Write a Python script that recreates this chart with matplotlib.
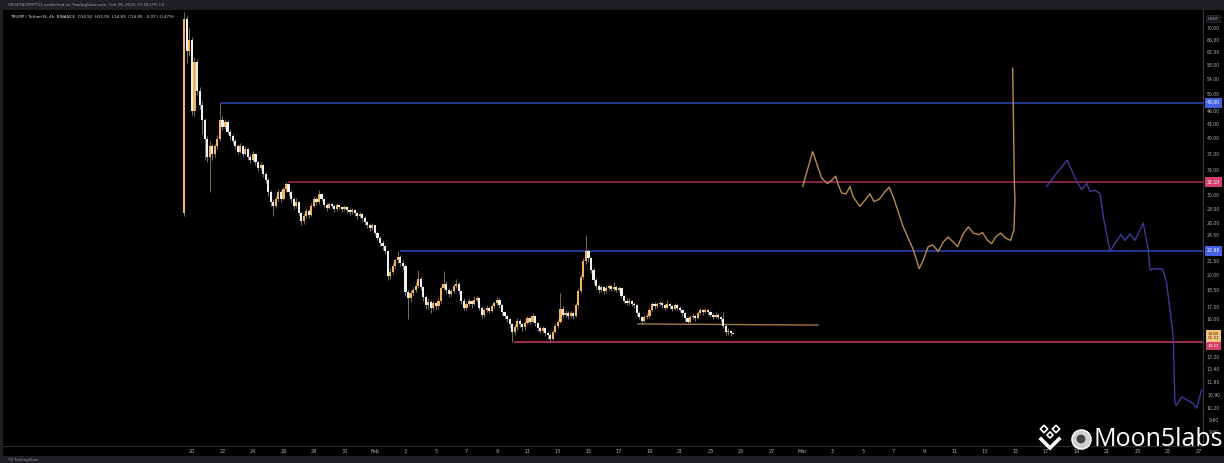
#!/usr/bin/env python3
# TRUMP/USDT 4h chart with drawn levels and projection paths (TradingView style)

import matplotlib.pyplot as plt
import numpy as np
from matplotlib.patches import Rectangle

W, H = 1224, 463

# ---- candles (4h), first candle Jan 19 12:00, x in days from Jan 20 ----
first_open = 27.5
closes = [
    73.5, 62.4, 66.0, 46.0, 59.0, 51.0, 47.5, 44.0, 40.0, 36.5,
    38.5, 37.0, 38.5, 40.0, 44.0, 42.5, 43.5, 41.5, 40.5, 39.5,
    38.5, 37.5, 38.5, 37.0, 38.0, 36.5, 36.0, 37.0, 35.5, 34.5,
    35.0, 33.5, 32.5, 30.5, 29.0, 28.5, 29.5, 30.5, 29.5, 31.0,
    31.8, 30.5, 29.5, 28.5, 29.0, 27.5, 26.3, 27.0, 27.8, 27.2,
    28.5, 29.5, 29.0, 30.2, 29.5, 28.6, 28.2, 28.8, 28.5, 28.0,
    28.6, 28.3, 28.0, 28.3, 27.9, 27.6, 27.9, 27.4, 27.0, 27.3,
    26.8, 26.2, 25.8, 25.4, 25.8, 24.8, 24.2, 23.6, 23.2, 22.6,
    19.9, 20.4, 21.0, 21.6, 22.0, 21.3, 21.0, 18.4, 17.8, 18.3,
    18.6, 19.0, 19.6, 18.9, 17.9, 17.2, 17.5, 17.0, 17.4, 17.1,
    17.6, 18.8, 19.2, 18.6, 18.2, 18.5, 19.0, 19.2, 18.5, 17.6,
    17.0, 17.3, 17.6, 17.3, 17.7, 17.8, 17.0, 16.4, 16.8, 17.0,
    16.7, 17.1, 17.4, 17.7, 17.2, 16.6, 16.3, 16.0, 15.6, 15.0,
    15.4, 15.9, 15.6, 15.4, 15.7, 16.1, 15.8, 16.3, 15.7, 15.3,
    15.1, 15.3, 14.9, 14.8, 14.5, 15.0, 15.5, 15.8, 16.9, 16.4,
    16.5, 16.3, 16.5, 16.3, 17.2, 18.5, 19.8, 21.5, 22.7, 21.8,
    20.6, 19.5, 19.0, 18.6, 18.9, 18.5, 18.8, 19.0, 18.7, 18.9,
    18.6, 18.8, 18.0, 17.6, 17.4, 17.6, 17.3, 17.2, 16.5, 16.2,
    15.9, 16.2, 16.3, 16.8, 17.3, 17.1, 17.3, 17.4, 17.2, 17.0,
    17.3, 17.1, 16.9, 17.2, 17.0, 16.8, 16.5, 16.1, 15.8, 16.2,
    16.3, 16.1, 16.5, 16.8, 16.6, 16.8, 16.6, 16.4, 16.2, 16.4,
    16.2, 16.0, 15.5, 15.0, 15.1, 14.92, 14.85,
]
highs = [
    76.0, 74.5, 70.3, 67.0, 60.5, 60.0, 52.0, 48.5, 44.5, 40.5,
    39.5, 39.0, 39.0, 40.8, 48.0, 45.0, 44.2, 44.0, 42.0, 41.0,
    40.0, 39.0, 39.2, 38.8, 38.6, 38.2, 37.0, 37.6, 37.2, 35.8,
    35.6, 35.2, 33.8, 32.8, 30.8, 29.5, 30.0, 31.0, 30.8, 31.4,
    32.1, 32.0, 30.8, 29.8, 29.6, 29.2, 27.8, 27.4, 28.2, 28.0,
    28.9, 29.9, 29.8, 30.8, 30.4, 29.7, 28.9, 29.1, 29.0, 28.7,
    28.9, 28.8, 28.5, 28.6, 28.4, 28.1, 28.2, 28.0, 27.6, 27.6,
    27.4, 27.0, 26.4, 26.0, 26.1, 25.9, 25.0, 24.4, 23.9, 23.4,
    22.8, 20.8, 21.3, 21.7, 22.65, 22.2, 21.6, 21.2, 18.6, 18.6,
    18.9, 19.3, 20.6, 19.8, 19.0, 18.1, 17.8, 17.7, 17.6, 17.5,
    17.8, 19.0, 20.5, 19.4, 18.8, 18.7, 19.2, 19.6, 19.3, 18.6,
    17.8, 17.5, 17.8, 17.7, 18.0, 18.0, 17.9, 17.1, 17.0, 17.2,
    17.1, 17.3, 17.6, 17.9, 17.8, 17.3, 16.7, 16.4, 16.1, 15.7,
    15.6, 16.1, 16.0, 15.7, 15.9, 16.3, 16.2, 16.5, 16.4, 15.8,
    15.5, 15.5, 15.4, 15.1, 14.9, 15.2, 15.7, 16.0, 18.3, 17.1,
    16.8, 16.7, 16.7, 16.6, 17.4, 18.8, 20.2, 21.9, 24.6, 22.9,
    22.0, 20.8, 19.7, 19.2, 19.1, 19.0, 19.0, 19.2, 19.1, 19.3,
    19.0, 19.0, 18.9, 18.1, 17.8, 17.8, 17.7, 17.5, 17.3, 16.7,
    16.3, 16.4, 16.5, 17.0, 17.5, 17.5, 17.5, 17.6, 17.5, 17.3,
    17.7, 17.4, 17.2, 17.4, 17.3, 17.1, 16.9, 16.6, 16.2, 16.4,
    16.5, 16.4, 16.7, 17.0, 16.9, 17.0, 16.9, 16.7, 16.5, 16.6,
    16.5, 16.3, 16.6, 15.6, 15.3, 15.2, 15.05,
]
lows = [
    27.0, 58.8, 61.0, 45.2, 45.0, 50.0, 46.5, 41.0, 36.0, 35.5,
    30.5, 36.0, 36.5, 38.0, 39.5, 41.8, 42.0, 41.0, 39.8, 39.0,
    38.0, 37.0, 37.2, 36.5, 36.8, 36.0, 35.4, 35.8, 35.0, 34.0,
    34.2, 33.0, 32.0, 30.0, 28.5, 27.0, 28.2, 29.2, 29.0, 29.3,
    30.6, 30.0, 29.0, 28.0, 28.2, 27.0, 25.8, 26.0, 26.8, 26.8,
    27.0, 28.3, 28.6, 28.8, 29.2, 28.3, 27.8, 28.0, 28.1, 27.6,
    27.8, 28.0, 27.6, 27.8, 27.5, 27.2, 27.3, 27.0, 26.6, 26.8,
    26.4, 25.9, 25.4, 25.0, 25.2, 24.5, 23.9, 23.2, 22.8, 22.3,
    19.5, 19.6, 20.1, 20.8, 21.3, 21.0, 20.6, 18.0, 16.0, 17.5,
    18.0, 18.4, 18.8, 18.6, 17.6, 16.9, 16.9, 16.5, 16.8, 16.8,
    16.9, 17.4, 18.6, 18.3, 17.9, 18.0, 18.3, 18.8, 18.2, 17.3,
    16.8, 16.8, 17.1, 17.0, 17.2, 17.5, 16.8, 16.1, 16.2, 16.6,
    16.5, 16.6, 17.0, 17.2, 17.0, 16.4, 16.0, 15.8, 15.3, 14.27,
    14.8, 15.2, 15.4, 15.1, 15.2, 15.6, 15.6, 15.7, 15.5, 15.1,
    14.9, 14.9, 14.7, 14.5, 14.3, 14.4, 14.9, 15.3, 15.7, 16.2,
    16.2, 16.0, 16.1, 16.0, 16.2, 17.0, 18.3, 19.6, 21.2, 21.4,
    20.3, 19.2, 18.7, 18.3, 18.4, 18.2, 18.3, 18.6, 18.5, 18.5,
    18.4, 18.4, 17.8, 17.4, 17.2, 17.2, 17.1, 17.0, 16.3, 16.0,
    15.6, 15.8, 16.0, 16.1, 16.7, 16.9, 17.0, 17.1, 17.0, 16.8,
    16.9, 16.9, 16.7, 16.8, 16.8, 16.6, 16.3, 15.9, 15.6, 15.7,
    16.0, 15.9, 16.0, 16.4, 16.4, 16.5, 16.4, 16.2, 16.0, 16.1,
    16.0, 15.8, 15.3, 14.8, 14.8, 14.7, 14.83,
]

# ---- drawn horizontal rays: price, start day ----
level_prices = [48.0, 32.1, 22.65, 14.27]
level_start = [1.84, 6.30, 13.64, 21.11]
level_colors = ["#2f44b2", "#a3304e", "#2f44b2", "#cc3a60"]
level_tags = ["#4560e0", "#d63f69", "#4560e0", "#d63f69"]

support_days = [29.25, 41.05]
support_prices = [15.64, 15.55]

# ---- hand drawn projections ----
proj1_days = [40.05, 40.70, 41.29, 41.66, 41.95, 42.21, 42.38, 42.60, 42.89, 43.15,
              43.36, 43.80, 44.13, 44.46, 44.72, 45.07, 45.44, 45.72, 45.99, 46.64,
              47.30, 47.69, 47.95, 48.28, 48.57, 48.94, 49.27, 49.59, 49.92, 50.21,
              50.54, 50.91, 51.24, 51.56, 51.85, 52.15, 52.44, 52.72, 53.03, 53.38,
              53.69, 53.90, 53.97, 53.93, 53.82]
proj1_prices = [31.4, 37.5, 32.8, 31.9, 32.4, 33.1, 31.7, 30.4, 30.25, 31.4,
                29.8, 28.4, 29.3, 30.25, 29.1, 29.45, 30.6, 31.3, 29.8, 25.6,
                22.8, 20.7, 21.6, 23.15, 23.35, 22.6, 23.7, 24.3, 23.7, 23.15,
                24.6, 25.6, 24.8, 24.6, 24.85, 23.95, 23.5, 24.35, 24.8, 24.15,
                23.9, 25.2, 29.3, 31.9, 57.3]
proj2_days = [56.05, 56.70, 57.40, 57.90, 58.34, 58.67, 58.89, 59.21, 59.54, 59.76,
              60.20, 60.52, 60.90, 61.18, 61.51, 61.84, 62.38, 62.71, 62.82, 63.15,
              63.65, 63.92, 64.35, 64.46, 64.57, 64.90, 65.33, 65.66, 65.88, 66.21]
proj2_prices = [31.4, 33.6, 35.9, 32.8, 30.9, 31.9, 30.6, 30.8, 30.35, 26.95,
                22.6, 23.55, 24.6, 23.9, 24.7, 23.9, 26.1, 22.8, 20.6, 20.7,
                20.65, 19.2, 14.65, 10.45, 10.35, 10.8, 10.6, 10.45, 10.2, 11.2]

price_ticks = [70, 66, 62, 58, 54, 50, 46, 43, 40, 37, 34, 30, 28, 26, 24.5,
               21.5, 20, 18.5, 17, 16, 13.2, 12.4, 11.6, 10.9, 10.2, 9.6, 9.0]
tick_days = list(range(0, 67, 2))
tick_labels = (["20", "22", "24", "26", "28", "30", "Feb"]
               + [str(d) for d in range(3, 28, 2)] + ["Mar"]
               + [str(d) for d in range(3, 28, 2)])

last_price = 14.85

UP, DN = "#f2b55e", "#f0f0f0"
WICK_UP, WICK_DN = "#9a7846", "#858585"
LABEL_GREY = "#aeb1b9"

fig = plt.figure(figsize=(W / 100, H / 100), dpi=100, facecolor="#1f2023")


def fx(px):
    return px / W


def fy(py):
    return 1 - py / H


top, bot, left, sep = 10, 446, 3, 1203
ax = fig.add_axes([fx(left), fy(bot), fx(sep - left), (bot - top) / H])
axr = fig.add_axes([fx(sep), fy(bot), fx(W - sep), (bot - top) / H], sharey=ax)
fig.add_artist(Rectangle((fx(left), fy(456)), fx(W - left), 10 / H,
                         transform=fig.transFigure, fc="black", ec="none", zorder=-1))

for a in (ax, axr):
    a.set_facecolor("black")
    for s in a.spines.values():
        s.set_visible(False)
ax.spines["bottom"].set_visible(True)
ax.spines["bottom"].set_color("#2a2b2f")
axr.spines["left"].set_visible(True)
axr.spines["left"].set_color("#3a3b40")
axr.spines["left"].set_linewidth(0.8)

ax.set_yscale("log")
ax.set_ylim(8.42, 76.9)
ax.set_xlim(-12.39, 66.3)

# candles
closes_a = np.array(closes)
opens = np.r_[first_open, closes_a[:-1]]
t = np.arange(len(closes_a)) / 6 - 0.5
up = closes_a >= opens
ax.vlines(t, lows, highs, colors=np.where(up, WICK_UP, WICK_DN), lw=0.6, zorder=2)
ax.bar(t, closes_a - opens, bottom=opens, width=0.14,
       color=np.where(up, UP, DN), linewidth=0, zorder=3)

# levels
for p, x0, c in zip(level_prices, level_start, level_colors):
    ax.hlines(p, x0, 66.3, color=c, lw=1.1, zorder=1)
ax.plot(support_days, support_prices, color="#a27a45", lw=1.0, zorder=1)

# projections
ax.plot(proj1_days, proj1_prices, color="#b98a4c", lw=1.0,
        solid_joinstyle="round", solid_capstyle="round", zorder=4)
ax.plot(proj2_days, proj2_prices, color="#3d3b96", lw=1.0,
        solid_joinstyle="round", solid_capstyle="round", zorder=4)

ax.set_xticks(tick_days)
ax.set_xticklabels(tick_labels)
ax.tick_params(axis="x", length=0, pad=2.2, labelsize=3.6, labelcolor=LABEL_GREY)
for a in (ax, axr):
    a.tick_params(axis="y", which="both", left=False, right=False,
                  labelleft=False, labelright=False)
axr.tick_params(axis="x", bottom=False, labelbottom=False)

# price scale
ytr = axr.get_yaxis_transform()
for p in price_ticks:
    axr.text(0.5, p, f"{p:.2f}", transform=ytr, ha="center", va="center",
             fontsize=3.3, color=LABEL_GREY)
for p, c in zip(level_prices[:3], level_tags[:3]):
    axr.text(0.5, p, f"{p:.2f}", transform=ytr, ha="center", va="center",
             fontsize=3.3, color="white",
             bbox=dict(boxstyle="square,pad=0.5", fc=c, ec="none"))
axr.annotate(f"{last_price:.2f}\n01:51", (0.5, last_price), xycoords=ytr,
             xytext=(0, -1.5), textcoords="offset points", ha="center", va="center",
             fontsize=3.0, color="#3b2a12", linespacing=1.1,
             bbox=dict(boxstyle="square,pad=0.45", fc="#f2c47e", ec="none"))
axr.annotate(f"{level_prices[3]:.2f}", (0.5, level_prices[3]), xycoords=ytr,
             xytext=(0, -3), textcoords="offset points", ha="center", va="center",
             fontsize=3.0, color="white",
             bbox=dict(boxstyle="square,pad=0.45", fc=level_tags[3], ec="none"))
axr.text(0.5, 0.979, "USDT", transform=axr.transAxes, ha="center", va="center",
         fontsize=3.0, color=LABEL_GREY,
         bbox=dict(boxstyle="round,pad=0.4", fc="#16171a", ec="#3a3b40", lw=0.4))

# header / footer texts
fig.text(fx(8), fy(5), "VEGETACRYPTO1 published on TradingView.com, Feb 26, 2025 23:18 UTC+4",
         fontsize=3.0, color="#a0a0a0", va="center")
fig.text(fx(10), fy(16.5),
         "TRUMP / TetherUS, 4h, BINANCE  O14.92  H15.05  L14.83  C14.85  -0.07 (-0.47%)",
         fontsize=3.0, color="#dddddd", va="center")
fig.text(fx(8), fy(459.5), "TV TradingView", fontsize=2.8, color="#9a9a9a", va="center")

# watermark overlay
axo = fig.add_axes([0, 0, 1, 1], zorder=10)
axo.set_xlim(0, W)
axo.set_ylim(H, 0)
axo.axis("off")
axo.patch.set_alpha(0)
axo.scatter([1044, 1056, 1050], [429, 429, 435], marker="D", s=[14, 14, 10],
            facecolor="none", edgecolor="white", linewidth=1.2)
axo.plot([1041, 1050, 1059], [439, 448, 439], color="white", lw=2.6, solid_joinstyle="miter")
axo.scatter([1081], [439], marker="o", s=190, facecolor="#cfcfcf", edgecolor="white", lw=1.0)
axo.scatter([1081], [439], marker="o", s=40, facecolor="#444444", edgecolor="none")
axo.text(1093, 440, "Moon5labs", fontsize=18, color="white", ha="left", va="center",
         family=["Open Sans", "DejaVu Sans"])

fig.savefig("out.png", dpi=100, facecolor=fig.get_facecolor())
